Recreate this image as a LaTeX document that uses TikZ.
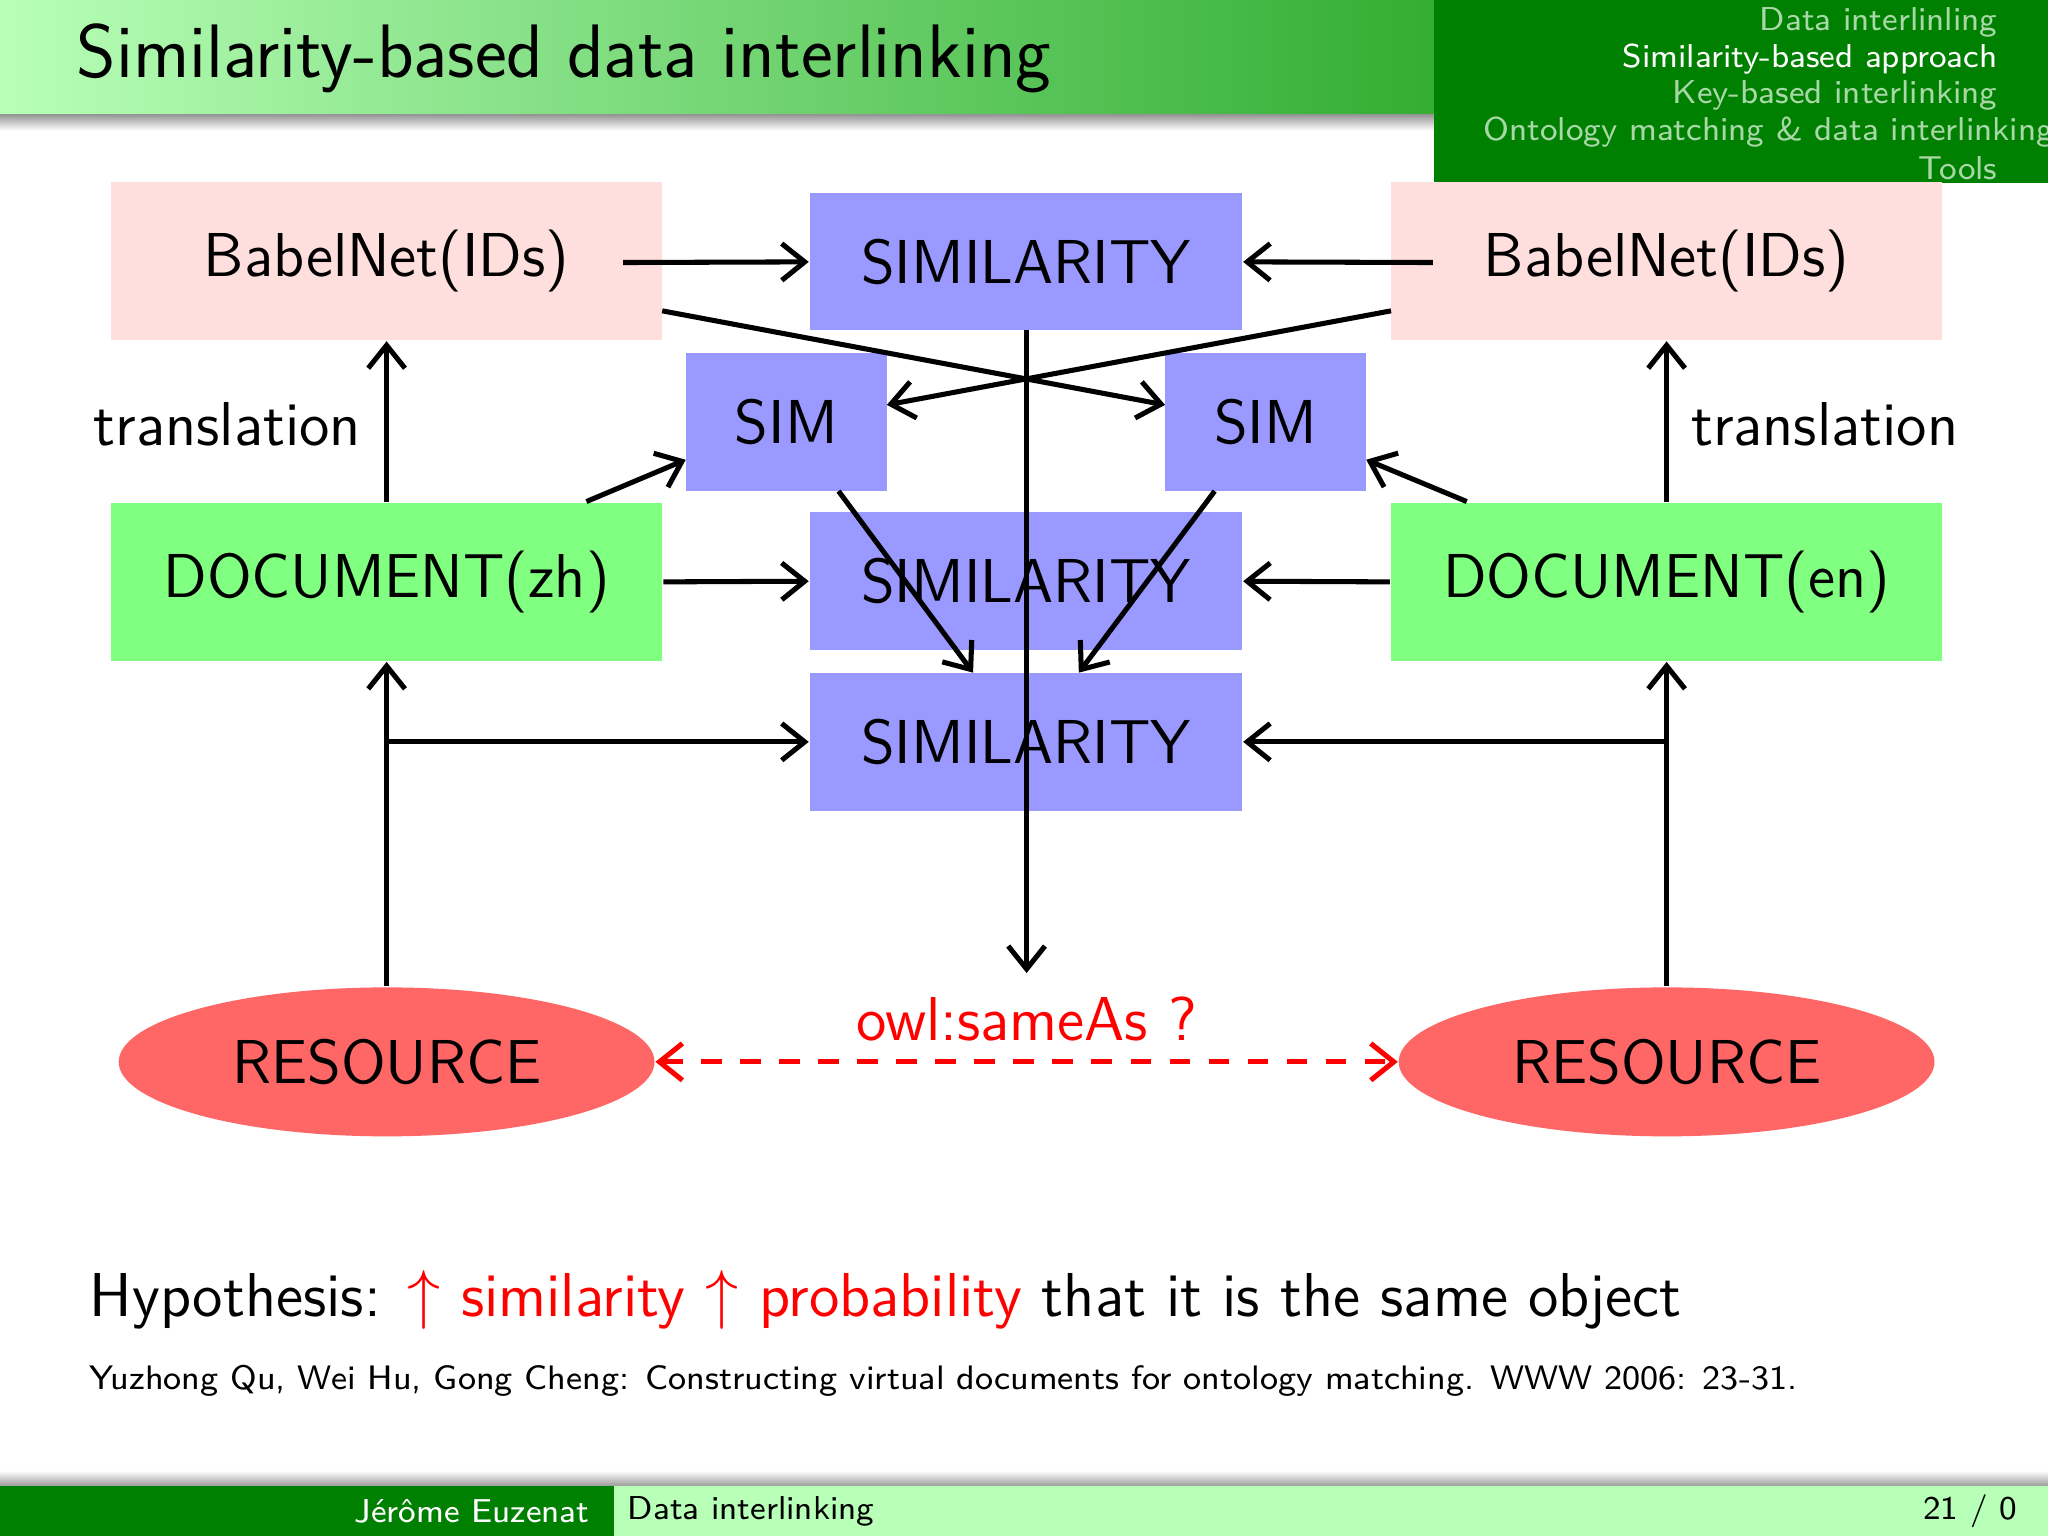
\documentclass[tikz,border=0pt]{standalone}
\usetikzlibrary{shapes.geometric,arrows.meta,shadings}
\definecolor{pinkb}{HTML}{FFDEDE}
\definecolor{blueb}{HTML}{9999FF}
\definecolor{greenb}{HTML}{80FF80}
\definecolor{resb}{HTML}{FF6666}
\definecolor{dkgreen}{HTML}{008000}
\definecolor{ltgreen}{HTML}{B8FFB8}
\definecolor{menugr}{HTML}{A8D8A8}
\begin{document}
\begin{tikzpicture}[x=0.01cm,y=-0.01cm,font=\sffamily,
  box/.style={draw=none,inner sep=0,font=\sffamily\fontsize{13.5}{15}\selectfont},
  arr/.style={-{Straight Barb[length=5pt,width=8pt]},line width=1.1pt},
  menu/.style={anchor=east,inner sep=0,font=\sffamily\fontsize{7.2}{8}\selectfont,text=menugr}]
\useasboundingbox (0,0) rectangle (1568,1176);
\fill[white] (0,0) rectangle (1568,1176);
% header
\shade[left color=ltgreen,right color=green!60!black!80] (0,0) rectangle (1098,88);
\shade[top color=black!40,bottom color=white] (0,88) rectangle (1568,100);
\fill[dkgreen] (1098,0) rectangle (1568,140);
\node[anchor=west,inner sep=0,font=\sffamily\fontsize{16.5}{18}\selectfont] (title) at (58,45) {Similarity-based data interlinking};
\node[menu] (m1) at (1530,17) {Data interlinling};
\node[menu,text=white] (m2) at (1530,45) {Similarity-based approach};
\node[menu] (m3) at (1530,73) {Key-based interlinking};
\node[menu,anchor=west] (m4) at (1135,101) {Ontology matching \& data interlinking};
\node[menu] (m5) at (1530,129) {Tools};
% boxes
\node[box,fill=pinkb,minimum width=4.22cm,minimum height=1.21cm] (bl) at (296,200) {BabelNet(IDs)};
\node[box,fill=pinkb,minimum width=4.22cm,minimum height=1.21cm] (br) at (1276,200) {BabelNet(IDs)};
\node[box,fill=blueb,minimum width=3.31cm,minimum height=1.05cm] (s1) at (785.5,200.5) {SIMILARITY};
\node[box,fill=blueb,minimum width=1.54cm,minimum height=1.06cm] (sl) at (602,323) {SIM};
\node[box,fill=blueb,minimum width=1.54cm,minimum height=1.06cm] (sr) at (969,323) {SIM};
\node[box,fill=greenb,minimum width=4.22cm,minimum height=1.21cm] (dl) at (296,445.5) {DOCUMENT(zh)};
\node[box,fill=greenb,minimum width=4.22cm,minimum height=1.21cm] (dr) at (1276,445.5) {DOCUMENT(en)};
\node[box,fill=blueb,minimum width=3.31cm,minimum height=1.06cm] (s2) at (785.5,445) {SIMILARITY};
\node[box,fill=blueb,minimum width=3.31cm,minimum height=1.06cm] (s3) at (785.5,568) {SIMILARITY};
\node[box,ellipse,fill=resb,minimum width=4.1cm,minimum height=1.14cm] (rl) at (296,813) {RESOURCE};
\node[box,ellipse,fill=resb,minimum width=4.1cm,minimum height=1.14cm] (rr) at (1276,813) {RESOURCE};
\node[box,anchor=center] (tl) at (174,325) {translation};
\node[box,anchor=center] (tr) at (1397,325) {translation};
% coordinates
\coordinate (bla) at (477,201); \coordinate (bra) at (1097,201);
\coordinate (c1) at (507,238); \coordinate (c1e) at (892,310);
\coordinate (c2) at (1065,238); \coordinate (c2e) at (679,310);
\coordinate (v0) at (786,253); \coordinate (v1) at (786,745);
\coordinate (dla) at (449,384); \coordinate (sla) at (525,352);
\coordinate (dra) at (1123,384); \coordinate (sra) at (1046,352);
\coordinate (sl0) at (642,376); \coordinate (sl1) at (745,515);
\coordinate (sr0) at (930,376); \coordinate (sr1) at (826,515);
\coordinate (jl) at (296,568); \coordinate (jr) at (1276,568);
% arrows
\draw[arr] (bla) -- (s1.west);
\draw[arr] (bra) -- (s1.east);
\draw[arr] (c1) -- (c1e);
\draw[arr] (c2) -- (c2e);
\draw[arr] (dl.north) -- (bl.south);
\draw[arr] (dr.north) -- (br.south);
\draw[arr] (dla) -- (sla);
\draw[arr] (dra) -- (sra);
\draw[arr] (dl.east) -- (s2.west);
\draw[arr] (dr.west) -- (s2.east);
\draw[arr] (sl0) -- (sl1);
\draw[arr] (sr0) -- (sr1);
\draw[arr] (rl.north) -- (dl.south);
\draw[arr] (rr.north) -- (dr.south);
\draw[arr] (jl) -- (s3.west);
\draw[arr] (jr) -- (s3.east);
\draw[arr] (v0) -- (v1);
\draw[red,line width=1.1pt,dash pattern=on 4.5pt off 4pt,{Straight Barb[length=5pt,width=8pt]}-{Straight Barb[length=5pt,width=8pt]}] (rl.east) -- (rr.west);
\node[box,text=red] (same) at (786,780) {owl:sameAs ?};
% bottom text
\node[anchor=west,inner sep=0,font=\sffamily\fontsize{13.5}{15}\selectfont] (hyp) at (68,995) {Hypothesis: \textcolor{red}{$\uparrow$ similarity $\uparrow$ probability} that it is the same object};
\node[anchor=west,inner sep=0,font=\sffamily\fontsize{7.4}{9}\selectfont] (cite) at (68,1057) {Yuzhong Qu, Wei Hu, Gong Cheng: Constructing virtual documents for ontology matching. WWW 2006: 23-31.};
% footer
\shade[top color=white,bottom color=black!40] (0,1126) rectangle (1568,1138);
\fill[dkgreen] (0,1138) rectangle (470,1176);
\fill[ltgreen] (470,1138) rectangle (1568,1176);
\node[anchor=east,inner sep=0,text=white,font=\sffamily\fontsize{7.2}{8}\selectfont] (auth) at (452,1157) {Jérôme Euzenat};
\node[anchor=west,inner sep=0,font=\sffamily\fontsize{7.2}{8}\selectfont] (ft) at (480,1157) {Data interlinking};
\node[anchor=east,inner sep=0,font=\sffamily\fontsize{7.2}{8}\selectfont] (pg) at (1545,1157) {21 / 0};
\end{tikzpicture}
\end{document}
